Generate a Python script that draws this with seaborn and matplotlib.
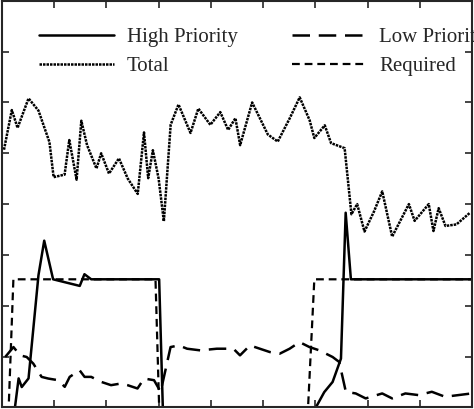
import matplotlib
matplotlib.use("Agg")
import matplotlib.pyplot as plt
import seaborn as sns
import numpy as np

sns.set_style("ticks")
plt.rcParams['font.family'] = ['Liberation Serif', 'DejaVu Serif']

total_x = [0.4,1.9,3.0,5.1,7.0,9.1,9.9,12.0,12.9,14.3,15.2,16.3,18.1,19,20.5,22.4,24.1,26,27.2,28,28.9,30,31,32.3,33.8,36.1,37.6,39.9,41.8,43.3,44.7,45.6,47.9,50.9,52.8,55.1,57,58.9,59.8,61.8,63,65.6,66.9,68,69.4,71.2,72.8,74.7,77.9,79,81.7,82.6,83.6,84.9,87,89.6]
total_y = [5.07,5.85,5.5,6.08,5.84,5.22,4.53,4.58,5.26,4.48,5.64,5.16,4.7,5.0,4.6,4.9,4.5,4.2,5.41,4.51,5.06,4.5,3.66,5.56,5.96,5.4,5.88,5.56,5.81,5.46,5.69,5.16,6.0,5.37,5.23,5.69,6.1,5.65,5.3,5.55,5.2,5.1,3.8,4.0,3.46,3.85,4.25,3.36,4.0,3.67,4.0,3.47,3.92,3.57,3.6,3.83]

high_x = [2.5,3.2,3.8,5.1,7.0,8.1,9.8,14.9,15.8,17.1,30.1,30.8,60.1,61.7,63.3,64.9,65.8,66.8,90]
high_y = [0,0.57,0.4,0.57,2.6,3.28,2.52,2.39,2.62,2.52,2.52,0,0,0.3,0.5,0.96,3.83,2.52,2.52]

req_x = [0,1.3,2.2,29.4,30.1,58.6,59.8,90]
req_y = [0,0,2.52,2.52,0,0,2.52,2.52]

low_X = [10,35,55,75,95,120,140,170,190,205,235,250,270,300,330,360,380,410,430,460,480,510,535,560,600,650,700,720,750,780,810,840,870,900,930,960,1000,1020,1040,1070,1100,1150,1180,1220,1260,1300,1340,1380,1420]
low_Y = [1075,1045,1070,1075,1095,1135,1140,1145,1165,1135,1115,1135,1135,1150,1160,1155,1160,1170,1140,1145,1180,1045,1040,1050,1055,1050,1050,1070,1040,1050,1060,1065,1050,1030,1045,1055,1075,1090,1180,1185,1200,1185,1200,1185,1190,1180,1195,1190,1185]
low_x = [v * 0.0633 for v in low_X]
low_y = [(1227 - v) * 0.00652 for v in low_Y]

fig = plt.figure(figsize=(4.74, 4.09), dpi=100)
ax = fig.add_axes([0.004, 0.004, 0.992, 0.994])
sns.lineplot(x=high_x, y=high_y, ax=ax, color='black', lw=1.8, label='High Priority', sort=False)
sns.lineplot(x=low_x, y=low_y, ax=ax, color='black', lw=1.8, label='Low Priority', dashes=False, sort=False)
sns.lineplot(x=total_x, y=total_y, ax=ax, color='black', lw=1.8, label='Total', sort=False)
sns.lineplot(x=req_x, y=req_y, ax=ax, color='black', lw=1.6, label='Required', sort=False)
lines = ax.get_lines()
lines[1].set_dashes([7, 3.5])
lines[2].set_linestyle((0, (1, 0.4)))
lines[3].set_dashes([3.5, 2.2])
ax.set_xlim(0, 90)
ax.set_ylim(0, 8)
ax.set_xticks(np.arange(0, 91, 10))
ax.set_yticks(np.arange(0, 9, 1))
ax.tick_params(direction='in', top=True, right=True, labelleft=False, labelbottom=False, length=5, width=1.2)
for s in ax.spines.values():
    s.set_linewidth(1.5)
h, l = ax.get_legend_handles_labels()
order = [0, 2, 1, 3]
ax.legend([h[i] for i in order], [l[i] for i in order], ncol=2, frameon=False,
          loc='upper left', bbox_to_anchor=(0.035, 0.985), fontsize=15,
          handlelength=3.6, columnspacing=2.6, handletextpad=0.6, labelspacing=0.45, borderpad=0.5)
fig.savefig("out.png", dpi=100)
